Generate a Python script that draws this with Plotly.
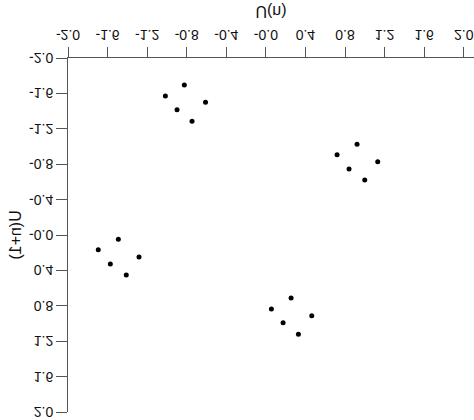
import plotly.graph_objects as go

# U(n) and U(n+1) values, four clusters of five points
u_n = [-0.824, -1.016, -0.610, -0.898, -0.746,
       0.922, 0.720, 1.131, 0.841, 1.000,
       -1.491, -1.694, -1.282, -1.572, -1.411,
       0.255, 0.056, 0.464, 0.174, 0.329]
u_n1 = [-1.695, -1.571, -1.499, -1.416, -1.285,
        -1.025, -0.907, -0.828, -0.746, -0.621,
        0.049, 0.166, 0.249, 0.328, 0.452,
        0.712, 0.836, 0.912, 0.991, 1.122]
tick_vals = [-2.0, -1.6, -1.2, -0.8, -0.4, 0.0, 0.4, 0.8, 1.2, 1.6, 2.0]
tick_text = ["-2.0", "-1.6", "-1.2", "-0.8", "-0.4", "-0.0", "0.4", "0.8", "1.2", "1.6", "2.0"]

fig = go.Figure(go.Scatter(x=u_n, y=u_n1, mode="markers",
                           marker=dict(color="black", size=5)))

axis_common = dict(showgrid=False, zeroline=False, showline=True,
                   linecolor="#555555", linewidth=1, ticks="outside",
                   tickcolor="#555555", tickwidth=1,
                   tickvals=tick_vals, ticktext=tick_text,
                   ticklabeloverflow="allow",
                   tickfont=dict(family="Liberation Sans, Arial", size=14, color="#111111"),
                   title_font=dict(family="Liberation Sans, Arial", size=16, color="#111111"))

fig.update_layout(
    width=474, height=420,
    margin=dict(l=68, r=0, t=8, b=58, autoexpand=False),
    plot_bgcolor="white", paper_bgcolor="white",
    showlegend=False,
    xaxis=dict(range=[-2.0, 2.104], ticklen=10, title=dict(text="U(n)", standoff=11), **axis_common),
    yaxis=dict(range=[-2.0, 2.0], ticklen=11, title=dict(text="U(n+1)", standoff=3), **axis_common),
)

post = ("document.body.style.margin='0';"
        "var d=document.getElementById('{plot_id}');"
        "d.style.transformOrigin='50% 50%';"
        "d.style.transform='scaleY(-1)';")
fig.write_html("out.html", post_script=post, config={"displayModeBar": False})
